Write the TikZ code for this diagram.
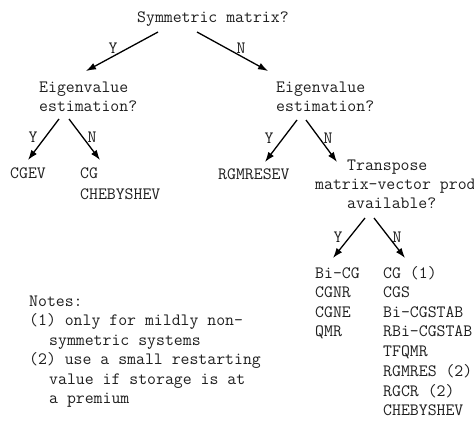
\documentclass[tikz,border=0pt]{standalone}
\usetikzlibrary{arrows.meta}
\tikzset{
  txt/.style={anchor=base west, inner sep=0pt, font=\ttfamily\fontsize{17.3}{19.5}\selectfont, text=black!88},
  lbl/.style={anchor=center, inner sep=0pt, font=\ttfamily\fontsize{17.3}{19.5}\selectfont, text=black!88},
  arr/.style={line width=1.3pt, -{Latex[length=10pt,width=7pt]}}
}
\begin{document}
\begin{tikzpicture}[x=1pt,y=-1pt]
\useasboundingbox (0,0) rectangle (474,434);
\clip (0,0) rectangle (474,434);
\fill[white] (0,0) rectangle (474,434);
% nodes
\node[txt] (sym) at (137,22) {Symmetric matrix?};
\node[txt] (eigL1) at (39,92) {Eigenvalue};
\node[txt] (eigL2) at (39,111) {estimation?};
\node[txt] (eigR1) at (276,92) {Eigenvalue};
\node[txt] (eigR2) at (276,111) {estimation?};
\node[txt] (cgev) at (10,178) {CGEV};
\node[txt] (cg) at (80,178) {CG};
\node[txt] (cheb1) at (80,199) {CHEBYSHEV};
\node[txt] (rgmresev) at (218,179) {RGMRESEV};
\node[txt] (tr1) at (347,170) {Transpose};
\node[txt] (tr2) at (315,189.5) {matrix-vector product};
\node[txt] (tr3) at (347,208) {available?};
\node[txt] (bicg) at (315,278) {Bi-CG};
\node[txt] (cgnr) at (315,297.5) {CGNR};
\node[txt] (cgne) at (315,317) {CGNE};
\node[txt] (qmr) at (315,336.5) {QMR};
\node[txt] (cg1) at (383,278) {CG (1)};
\node[txt] (cgs) at (383,297.5) {CGS};
\node[txt] (bicgstab) at (383,317) {Bi-CGSTAB};
\node[txt] (rbicgstab) at (383,336.5) {RBi-CGSTAB};
\node[txt] (tfqmr) at (383,356.5) {TFQMR};
\node[txt] (rgmres) at (383,376.5) {RGMRES (2)};
\node[txt] (rgcr) at (383,396) {RGCR (2)};
\node[txt] (cheb2) at (383,415.5) {CHEBYSHEV};
\node[txt] (n0) at (29,306) {Notes:};
\node[txt] (n1) at (29,325.5) {(1) only for mildly non-};
\node[txt] (n2) at (49,345) {symmetric systems};
\node[txt] (n3) at (29,364.5) {(2) use a small restarting};
\node[txt] (n4) at (49,384) {value if storage is at};
\node[txt] (n5) at (49,403.5) {a premium};
% connector ends
\coordinate (s1) at (158,32); \coordinate (e1) at (86,71);
\coordinate (s2) at (197,32); \coordinate (e2) at (268,71);
\coordinate (s3) at (59,119); \coordinate (e3) at (28,160);
\coordinate (s4) at (69,119); \coordinate (e4) at (100,160);
\coordinate (s5) at (297,120); \coordinate (e5) at (265,162);
\coordinate (s6) at (306,120); \coordinate (e6) at (337,162);
\coordinate (s7) at (365,218); \coordinate (e7) at (333,258);
\coordinate (s8) at (374,218); \coordinate (e8) at (405,258);
\draw[arr] (s1) -- (e1);
\draw[arr] (s2) -- (e2);
\draw[arr] (s3) -- (e3);
\draw[arr] (s4) -- (e4);
\draw[arr] (s5) -- (e5);
\draw[arr] (s6) -- (e6);
\draw[arr] (s7) -- (e7);
\draw[arr] (s8) -- (e8);
% labels
\node[lbl] (y1) at (113,48) {Y};
\node[lbl] (n1l) at (241,48) {N};
\node[lbl] (y2) at (33,137) {Y};
\node[lbl] (n2l) at (92,137) {N};
\node[lbl] (y3) at (269,138) {Y};
\node[lbl] (n3l) at (328,138) {N};
\node[lbl] (y4) at (338,237) {Y};
\node[lbl] (n4l) at (397,237) {N};
\end{tikzpicture}
\end{document}
